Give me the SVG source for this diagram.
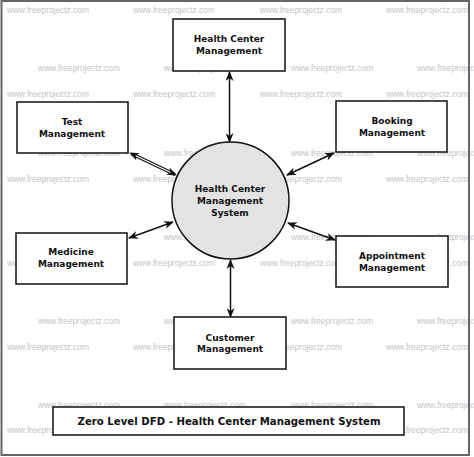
<svg xmlns="http://www.w3.org/2000/svg" width="474" height="457" viewBox="0 0 474 457">
<style>
.box{fill:#fff;stroke:#111;stroke-width:1.5}
.lbl{font-family:"DejaVu Sans",sans-serif;font-weight:bold;font-size:9px;fill:#111;text-anchor:middle}
.wm{font-family:"Liberation Sans",Arial,sans-serif;font-size:8.4px;fill:#c4c4c4}
.conn{fill:none;stroke:#111;stroke-width:1.5;marker-start:url(#ah);marker-end:url(#ah)}
</style>
<defs>
<marker id="ah" markerUnits="userSpaceOnUse" viewBox="0 0 10 8" refX="9" refY="4" markerWidth="10" markerHeight="8" orient="auto-start-reverse">
<path d="M0,0 L10,4 L0,8 L3,4 z" fill="#111"/>
</marker>
</defs>
<rect x="0" y="0" width="474" height="457" fill="#fff"/>
<g id="watermarks">
<text class="wm" x="7" y="13">www.freeprojectz.com</text><text class="wm" x="133" y="13">www.freeprojectz.com</text><text class="wm" x="260" y="13">www.freeprojectz.com</text><text class="wm" x="386" y="13">www.freeprojectz.com</text>
<text class="wm" x="38" y="71">www.freeprojectz.com</text><text class="wm" x="164" y="71">www.freeprojectz.com</text><text class="wm" x="291" y="71">www.freeprojectz.com</text><text class="wm" x="417" y="71">www.freeprojectz.com</text>
<text class="wm" x="7" y="97">www.freeprojectz.com</text><text class="wm" x="133" y="97">www.freeprojectz.com</text><text class="wm" x="260" y="97">www.freeprojectz.com</text><text class="wm" x="386" y="97">www.freeprojectz.com</text>
<text class="wm" x="38" y="156">www.freeprojectz.com</text><text class="wm" x="164" y="156">www.freeprojectz.com</text><text class="wm" x="291" y="156">www.freeprojectz.com</text><text class="wm" x="417" y="156">www.freeprojectz.com</text>
<text class="wm" x="7" y="182">www.freeprojectz.com</text><text class="wm" x="133" y="182">www.freeprojectz.com</text><text class="wm" x="260" y="182">www.freeprojectz.com</text><text class="wm" x="386" y="182">www.freeprojectz.com</text>
<text class="wm" x="38" y="240">www.freeprojectz.com</text><text class="wm" x="164" y="240">www.freeprojectz.com</text><text class="wm" x="291" y="240">www.freeprojectz.com</text><text class="wm" x="417" y="240">www.freeprojectz.com</text>
<text class="wm" x="7" y="266">www.freeprojectz.com</text><text class="wm" x="133" y="266">www.freeprojectz.com</text><text class="wm" x="260" y="266">www.freeprojectz.com</text><text class="wm" x="386" y="266">www.freeprojectz.com</text>
<text class="wm" x="38" y="324">www.freeprojectz.com</text><text class="wm" x="164" y="324">www.freeprojectz.com</text><text class="wm" x="291" y="324">www.freeprojectz.com</text><text class="wm" x="417" y="324">www.freeprojectz.com</text>
<text class="wm" x="7" y="350">www.freeprojectz.com</text><text class="wm" x="133" y="350">www.freeprojectz.com</text><text class="wm" x="260" y="350">www.freeprojectz.com</text><text class="wm" x="386" y="350">www.freeprojectz.com</text>
<text class="wm" x="38" y="408">www.freeprojectz.com</text><text class="wm" x="164" y="408">www.freeprojectz.com</text><text class="wm" x="291" y="408">www.freeprojectz.com</text><text class="wm" x="417" y="408">www.freeprojectz.com</text>
<text class="wm" x="7" y="433">www.freeprojectz.com</text><text class="wm" x="133" y="433">www.freeprojectz.com</text><text class="wm" x="260" y="433">www.freeprojectz.com</text><text class="wm" x="386" y="433">www.freeprojectz.com</text>
</g>
<g id="connectors">
<line class="conn" x1="229.5" y1="72" x2="229.5" y2="142"/>
<line class="conn" x1="230.5" y1="260" x2="230.5" y2="317"/>
<line x1="132" y1="154" x2="175" y2="174.5" stroke="#111" stroke-width="3.6"/>
<line x1="132" y1="154" x2="175" y2="174.5" stroke="#fff" stroke-width="1.2"/>
<line class="conn" x1="130" y1="153" x2="176" y2="175" stroke-opacity="0"/>
<line class="conn" x1="334" y1="153" x2="287" y2="175"/>
<line class="conn" x1="129" y1="238" x2="173" y2="222"/>
<line class="conn" x1="288" y1="223" x2="335" y2="240"/>
</g>
<g id="hcm">
<rect class="box" x="173" y="19" width="112" height="52"/>
<text class="lbl" x="229" y="42">Health Center</text>
<text class="lbl" x="229" y="54">Management</text>
</g>
<g id="test">
<rect class="box" x="17" y="102" width="111" height="51"/>
<text class="lbl" x="72" y="125">Test</text>
<text class="lbl" x="72" y="137">Management</text>
</g>
<g id="booking">
<rect class="box" x="336" y="101" width="111" height="51"/>
<text class="lbl" x="392" y="124">Booking</text>
<text class="lbl" x="392" y="136">Management</text>
</g>
<g id="system">
<circle cx="230.5" cy="200.5" r="58.5" fill="#e3e3e3" stroke="#111" stroke-width="1.5"/>
<text class="lbl" x="230" y="192">Health Center</text>
<text class="lbl" x="230" y="204">Management</text>
<text class="lbl" x="230" y="216">System</text>
</g>
<g id="medicine">
<rect class="box" x="16" y="233" width="111" height="51"/>
<text class="lbl" x="71" y="255">Medicine</text>
<text class="lbl" x="71" y="267">Management</text>
</g>
<g id="appointment">
<rect class="box" x="336" y="236" width="112" height="51"/>
<text class="lbl" x="392" y="259">Appointment</text>
<text class="lbl" x="392" y="271">Management</text>
</g>
<g id="customer">
<rect class="box" x="174" y="317" width="112" height="52"/>
<text class="lbl" x="230" y="341">Customer</text>
<text class="lbl" x="230" y="352">Management</text>
</g>
<g id="title">
<rect class="box" x="53" y="407" width="351" height="28"/>
<text class="lbl" x="229" y="425" style="font-size:11px" textLength="303" lengthAdjust="spacingAndGlyphs">Zero Level DFD - Health Center Management System</text>
</g>
<rect x="1.5" y="1" width="467.5" height="454" fill="none" stroke="#666" stroke-width="2"/>
</svg>
